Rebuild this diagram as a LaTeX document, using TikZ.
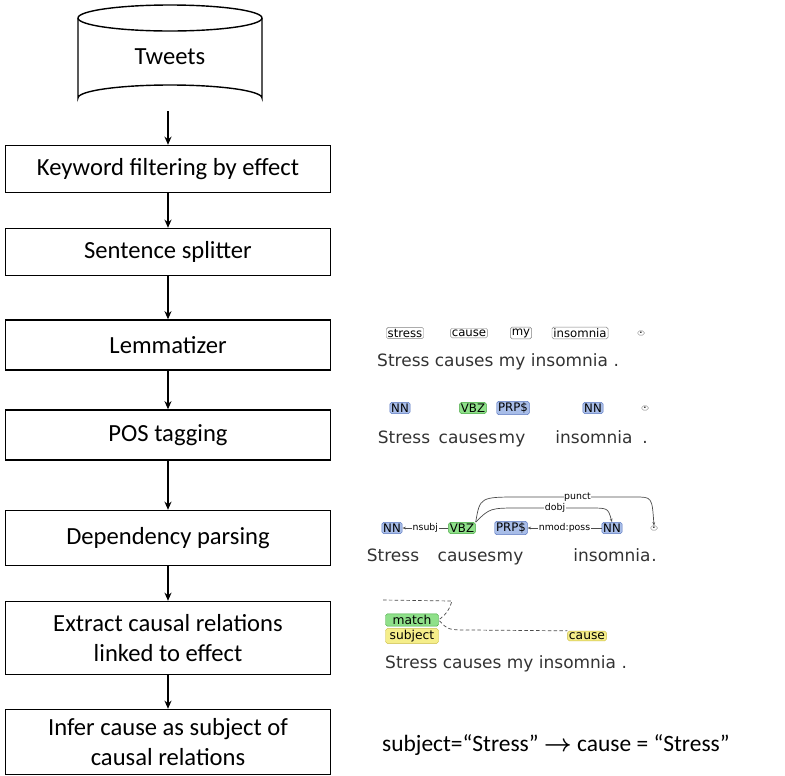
\documentclass[tikz,border=0pt]{standalone}
\usepackage{fontspec}
\setmainfont{Carlito}
\newfontfamily\vsans{DejaVu Sans}
\usetikzlibrary{arrows.meta}
\definecolor{nnb}{HTML}{A8BDE8}\definecolor{nnd}{HTML}{5A77C0}
\definecolor{vbg}{HTML}{8FE08A}\definecolor{vbd}{HTML}{3FA53A}
\definecolor{yel}{HTML}{F5EE8A}\definecolor{yeld}{HTML}{C9B93A}
\begin{document}
\begin{tikzpicture}[x=0.03cm,y=-0.03cm,
  box/.style={draw,line width=1.2pt,minimum width=325*0.03cm,inner sep=2pt,align=center,font=\fontsize{21}{25}\selectfont},
  arr/.style={-{Stealth[length=7pt,width=6pt]},line width=1.3pt},
  word/.style={inner sep=0pt,anchor=base,font=\fontsize{14.5}{17}\selectfont\vsans,text=black!80},
  tag/.style={draw=#1,rounded corners=1.5pt,inner sep=1.2pt,font=\fontsize{10}{11}\selectfont\vsans},
  gtag/.style={tag=gray,fill=white},
  ntag/.style={tag=nnd,fill=nnb},
  vtag/.style={tag=vbd,fill=vbg},
  ytag/.style={tag=yeld,fill=yel},
  dep/.style={draw=black!70,line width=0.6pt,-{Stealth[length=3pt]}},
  lab/.style={font=\fontsize{8}{9}\selectfont\vsans,fill=white,inner sep=0.5pt}]
\useasboundingbox (0,0) rectangle (785,775);
% cylinder
\draw[line width=1.2pt,fill=white] (78,18) -- (78,98) arc[start angle=180,end angle=360,x radius=92,y radius=13] -- (262,18);
\draw[line width=1.2pt] (170,18) ellipse[x radius=92,y radius=13];
\node[font=\fontsize{21}{25}\selectfont] (tw) at (170,57) {Tweets};
\coordinate (twb) at (168,111);
\node[box,minimum height=47*0.03cm] (b1) at (168,169) {Keyword filtering by effect};
\node[box,minimum height=47*0.03cm] (b2) at (168,252) {Sentence splitter};
\node[box,minimum height=50*0.03cm] (b3) at (168,345) {Lemmatizer};
\node[box,minimum height=50*0.03cm] (b4) at (168,435) {POS tagging};
\node[box,minimum height=55*0.03cm] (b5) at (168,538) {Dependency parsing};
\node[box,minimum height=73*0.03cm] (b6) at (168,638) {Extract causal relations\\linked to effect};
\node[box,minimum height=65*0.03cm] (b7) at (168,742) {Infer cause as subject of\\causal relations};
\draw[arr] (twb) -- (b1);
\draw[arr] (b1) -- (b2);
\draw[arr] (b2) -- (b3);
\draw[arr] (b3) -- (b4);
\draw[arr] (b4) -- (b5);
\draw[arr] (b5) -- (b6);
\draw[arr] (b6) -- (b7);
% row 1 lemma
\node[word,anchor=base west] (w11) at (377,366) {Stress causes my insomnia .};
\node[gtag] (t11) at (405,333) {stress};
\node[gtag] (t12) at (469,333) {cause};
\node[gtag] (t13) at (521,333) {my};
\node[gtag] (t14) at (580,333) {insomnia};
\node[gtag] (t15) at (641,333) {.};
% row 2 POS
\node[word] (w21) at (404,443) {Stress};
\node[word] (w22) at (468,443) {causes};
\node[word] (w23) at (512,443) {my};
\node[word] (w24) at (594,443) {insomnia};
\node[word] (w25) at (645,443) {.};
\node[ntag] (t21) at (400,408) {NN};
\node[vtag] (t22) at (473,408) {VBZ};
\node[ntag] (t23) at (513,408) {PRP\$};
\node[ntag] (t24) at (593,408) {NN};
\node[gtag] (t25) at (645,408) {.};
% row 3 dependency
\node[word] (w31) at (393,561) {Stress};
\node[word] (w32) at (467,561) {causes};
\node[word] (w33) at (510,561) {my};
\node[word] (w34) at (612,561) {insomnia};
\node[word] (w35) at (654,561) {.};
\node[ntag] (t31) at (392,528) {NN};
\node[vtag] (t32) at (462,528) {VBZ};
\node[ntag] (t33) at (511,528) {PRP\$};
\node[ntag] (t34) at (612,528) {NN};
\node[gtag] (t35) at (654,528) {.};
\draw[dep] (t32.west) -- node[lab]{nsubj} (t31.east);
\draw[dep] (t34.west) -- node[lab]{nmod:poss} (t33.east);
\draw[dep] (t32.north east) .. controls (480,497) .. (520,497) -- node[lab]{punct} (635,497) .. controls (652,497) .. (t35.north);
\draw[dep] (t32.north east) .. controls (490,508) .. (520,508) -- node[lab]{dobj} (590,508) .. controls (608,508) .. (t34.north);
% row 4
\node[word,anchor=base west] (w41) at (385,668) {Stress causes my insomnia .};
\node[vtag,font=\fontsize{10.5}{12}\selectfont\vsans,minimum width=53*0.03cm] (m) at (412,620) {match};
\node[ytag,font=\fontsize{10.5}{12}\selectfont\vsans,minimum width=53*0.03cm] (s) at (412,636) {subject};
\node[ytag,font=\fontsize{10.5}{12}\selectfont\vsans] (c) at (587,636) {cause};
\coordinate (d1) at (383,600);
\coordinate (d2) at (452,601);
\draw[densely dashed,line width=0.6pt,black!70] (d1) -- (d2) .. controls (448,612) .. (m.east) .. controls (448,630) .. (470,630) -- (c.north west);
% row 5
\node[font=\fontsize{20}{24}\selectfont,anchor=west] (res) at (378,745) {subject=“Stress” {\boldmath$\rightarrow$} cause = “Stress”};
\end{tikzpicture}
\end{document}
